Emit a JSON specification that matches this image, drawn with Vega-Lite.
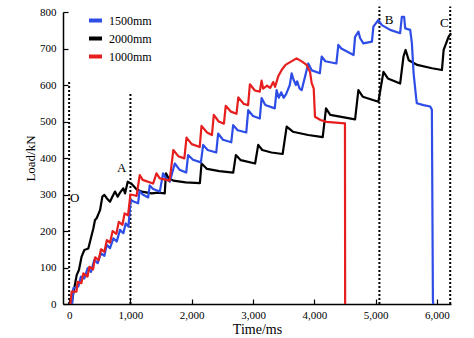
{
  "$schema": "https://vega.github.io/schema/vega-lite/v6.json",
  "width": 388,
  "height": 292,
  "autosize": "none",
  "padding": {"left": 63, "top": 12, "right": 23, "bottom": 34},
  "background": "white",
  "config": {
    "view": {"stroke": null},
    "font": "Liberation Serif",
    "axis": {
      "domainColor": "black", "domainWidth": 1.5,
      "tickColor": "black", "tickWidth": 1.2, "tickSize": -5,
      "labelColor": "black", "labelFont": "Liberation Serif", "labelFontSize": 11,
      "labelOverlap": false, "labelFlush": false,
      "titleColor": "black", "titleFont": "Liberation Serif", "titleFontWeight": "normal",
      "grid": false
    }
  },
  "datasets": {
    "curves": [
      {"s":"2000mm","t":0,"v":0},{"s":"2000mm","t":41,"v":2},{"s":"2000mm","t":80,"v":40},{"s":"2000mm","t":123,"v":79},{"s":"2000mm","t":160,"v":93},{"s":"2000mm","t":204,"v":130},{"s":"2000mm","t":248,"v":148},{"s":"2000mm","t":313,"v":152},{"s":"2000mm","t":368,"v":189},{"s":"2000mm","t":395,"v":207},{"s":"2000mm","t":422,"v":230},{"s":"2000mm","t":449,"v":235},{"s":"2000mm","t":504,"v":257},{"s":"2000mm","t":542,"v":294},{"s":"2000mm","t":575,"v":299},{"s":"2000mm","t":613,"v":290},{"s":"2000mm","t":667,"v":280},{"s":"2000mm","t":705,"v":294},{"s":"2000mm","t":749,"v":308},{"s":"2000mm","t":792,"v":294},{"s":"2000mm","t":830,"v":305},{"s":"2000mm","t":885,"v":317},{"s":"2000mm","t":912,"v":303},{"s":"2000mm","t":956,"v":335},{"s":"2000mm","t":1021,"v":329},{"s":"2000mm","t":1103,"v":314},{"s":"2000mm","t":1185,"v":308},{"s":"2000mm","t":1348,"v":303},{"s":"2000mm","t":1450,"v":305},{"s":"2000mm","t":1560,"v":303},{"s":"2000mm","t":1580,"v":358},{"s":"2000mm","t":1620,"v":345},{"s":"2000mm","t":1700,"v":338},{"s":"2000mm","t":1900,"v":333},{"s":"2000mm","t":2133,"v":331},{"s":"2000mm","t":2160,"v":385},{"s":"2000mm","t":2250,"v":370},{"s":"2000mm","t":2450,"v":364},{"s":"2000mm","t":2677,"v":360},{"s":"2000mm","t":2720,"v":408},{"s":"2000mm","t":2800,"v":394},{"s":"2000mm","t":3034,"v":385},{"s":"2000mm","t":3085,"v":436},{"s":"2000mm","t":3150,"v":422},{"s":"2000mm","t":3300,"v":415},{"s":"2000mm","t":3483,"v":411},{"s":"2000mm","t":3549,"v":486},{"s":"2000mm","t":3650,"v":472},{"s":"2000mm","t":3900,"v":463},{"s":"2000mm","t":4137,"v":457},{"s":"2000mm","t":4191,"v":536},{"s":"2000mm","t":4260,"v":518},{"s":"2000mm","t":4665,"v":506},{"s":"2000mm","t":4719,"v":586},{"s":"2000mm","t":4790,"v":568},{"s":"2000mm","t":5045,"v":554},{"s":"2000mm","t":5128,"v":636},{"s":"2000mm","t":5200,"v":618},{"s":"2000mm","t":5400,"v":604},{"s":"2000mm","t":5455,"v":678},{"s":"2000mm","t":5490,"v":696},{"s":"2000mm","t":5540,"v":668},{"s":"2000mm","t":5680,"v":655},{"s":"2000mm","t":5920,"v":646},{"s":"2000mm","t":6082,"v":641},{"s":"2000mm","t":6110,"v":696},{"s":"2000mm","t":6190,"v":732},{"s":"2000mm","t":6230,"v":742},
      {"s":"1500mm","t":50,"v":0},{"s":"1500mm","t":68,"v":43},{"s":"1500mm","t":150,"v":48},{"s":"1500mm","t":193,"v":75},{"s":"1500mm","t":248,"v":70},{"s":"1500mm","t":302,"v":98},{"s":"1500mm","t":357,"v":88},{"s":"1500mm","t":411,"v":121},{"s":"1500mm","t":466,"v":112},{"s":"1500mm","t":520,"v":139},{"s":"1500mm","t":575,"v":132},{"s":"1500mm","t":613,"v":162},{"s":"1500mm","t":667,"v":153},{"s":"1500mm","t":722,"v":180},{"s":"1500mm","t":776,"v":171},{"s":"1500mm","t":830,"v":203},{"s":"1500mm","t":885,"v":194},{"s":"1500mm","t":923,"v":221},{"s":"1500mm","t":967,"v":212},{"s":"1500mm","t":1005,"v":285},{"s":"1500mm","t":1060,"v":280},{"s":"1500mm","t":1125,"v":276},{"s":"1500mm","t":1150,"v":310},{"s":"1500mm","t":1200,"v":300},{"s":"1500mm","t":1290,"v":292},{"s":"1500mm","t":1315,"v":325},{"s":"1500mm","t":1370,"v":315},{"s":"1500mm","t":1479,"v":308},{"s":"1500mm","t":1533,"v":358},{"s":"1500mm","t":1580,"v":345},{"s":"1500mm","t":1642,"v":335},{"s":"1500mm","t":1724,"v":385},{"s":"1500mm","t":1800,"v":368},{"s":"1500mm","t":1910,"v":360},{"s":"1500mm","t":1941,"v":408},{"s":"1500mm","t":2020,"v":395},{"s":"1500mm","t":2150,"v":388},{"s":"1500mm","t":2186,"v":436},{"s":"1500mm","t":2260,"v":422},{"s":"1500mm","t":2400,"v":415},{"s":"1500mm","t":2431,"v":467},{"s":"1500mm","t":2510,"v":450},{"s":"1500mm","t":2645,"v":443},{"s":"1500mm","t":2676,"v":490},{"s":"1500mm","t":2750,"v":476},{"s":"1500mm","t":2890,"v":470},{"s":"1500mm","t":2922,"v":531},{"s":"1500mm","t":3000,"v":515},{"s":"1500mm","t":3110,"v":508},{"s":"1500mm","t":3140,"v":564},{"s":"1500mm","t":3200,"v":545},{"s":"1500mm","t":3355,"v":536},{"s":"1500mm","t":3385,"v":586},{"s":"1500mm","t":3420,"v":565},{"s":"1500mm","t":3460,"v":580},{"s":"1500mm","t":3500,"v":565},{"s":"1500mm","t":3540,"v":575},{"s":"1500mm","t":3600,"v":600},{"s":"1500mm","t":3630,"v":632},{"s":"1500mm","t":3660,"v":615},{"s":"1500mm","t":3700,"v":600},{"s":"1500mm","t":3720,"v":610},{"s":"1500mm","t":3760,"v":590},{"s":"1500mm","t":3794,"v":586},{"s":"1500mm","t":3902,"v":659},{"s":"1500mm","t":3960,"v":640},{"s":"1500mm","t":4090,"v":632},{"s":"1500mm","t":4120,"v":678},{"s":"1500mm","t":4180,"v":665},{"s":"1500mm","t":4360,"v":659},{"s":"1500mm","t":4392,"v":710},{"s":"1500mm","t":4440,"v":700},{"s":"1500mm","t":4640,"v":682},{"s":"1500mm","t":4665,"v":732},{"s":"1500mm","t":4720,"v":746},{"s":"1500mm","t":4748,"v":728},{"s":"1500mm","t":4800,"v":714},{"s":"1500mm","t":4940,"v":719},{"s":"1500mm","t":4964,"v":760},{"s":"1500mm","t":5046,"v":778},{"s":"1500mm","t":5101,"v":764},{"s":"1500mm","t":5237,"v":751},{"s":"1500mm","t":5400,"v":742},{"s":"1500mm","t":5428,"v":787},{"s":"1500mm","t":5465,"v":787},{"s":"1500mm","t":5483,"v":755},{"s":"1500mm","t":5564,"v":751},{"s":"1500mm","t":5592,"v":714},{"s":"1500mm","t":5620,"v":632},{"s":"1500mm","t":5662,"v":564},{"s":"1500mm","t":5673,"v":550},{"s":"1500mm","t":5782,"v":545},{"s":"1500mm","t":5891,"v":541},{"s":"1500mm","t":5918,"v":532},{"s":"1500mm","t":5935,"v":11},{"s":"1500mm","t":5940,"v":0},
      {"s":"1000mm","t":20,"v":0},{"s":"1000mm","t":41,"v":34},{"s":"1000mm","t":120,"v":34},{"s":"1000mm","t":139,"v":61},{"s":"1000mm","t":200,"v":57},{"s":"1000mm","t":232,"v":84},{"s":"1000mm","t":300,"v":75},{"s":"1000mm","t":330,"v":102},{"s":"1000mm","t":390,"v":95},{"s":"1000mm","t":425,"v":128},{"s":"1000mm","t":480,"v":120},{"s":"1000mm","t":520,"v":150},{"s":"1000mm","t":575,"v":143},{"s":"1000mm","t":615,"v":175},{"s":"1000mm","t":667,"v":168},{"s":"1000mm","t":710,"v":200},{"s":"1000mm","t":770,"v":192},{"s":"1000mm","t":810,"v":225},{"s":"1000mm","t":870,"v":217},{"s":"1000mm","t":905,"v":248},{"s":"1000mm","t":961,"v":243},{"s":"1000mm","t":1000,"v":300},{"s":"1000mm","t":1060,"v":298},{"s":"1000mm","t":1100,"v":296},{"s":"1000mm","t":1152,"v":353},{"s":"1000mm","t":1200,"v":340},{"s":"1000mm","t":1370,"v":330},{"s":"1000mm","t":1425,"v":358},{"s":"1000mm","t":1479,"v":344},{"s":"1000mm","t":1640,"v":338},{"s":"1000mm","t":1700,"v":422},{"s":"1000mm","t":1780,"v":405},{"s":"1000mm","t":1880,"v":399},{"s":"1000mm","t":1915,"v":456},{"s":"1000mm","t":2000,"v":438},{"s":"1000mm","t":2130,"v":430},{"s":"1000mm","t":2160,"v":488},{"s":"1000mm","t":2250,"v":470},{"s":"1000mm","t":2330,"v":463},{"s":"1000mm","t":2360,"v":518},{"s":"1000mm","t":2440,"v":500},{"s":"1000mm","t":2525,"v":494},{"s":"1000mm","t":2555,"v":543},{"s":"1000mm","t":2640,"v":527},{"s":"1000mm","t":2730,"v":521},{"s":"1000mm","t":2760,"v":566},{"s":"1000mm","t":2850,"v":548},{"s":"1000mm","t":2920,"v":545},{"s":"1000mm","t":2949,"v":602},{"s":"1000mm","t":3030,"v":585},{"s":"1000mm","t":3110,"v":582},{"s":"1000mm","t":3140,"v":612},{"s":"1000mm","t":3165,"v":590},{"s":"1000mm","t":3230,"v":598},{"s":"1000mm","t":3280,"v":592},{"s":"1000mm","t":3330,"v":608},{"s":"1000mm","t":3360,"v":595},{"s":"1000mm","t":3410,"v":623},{"s":"1000mm","t":3467,"v":641},{"s":"1000mm","t":3530,"v":655},{"s":"1000mm","t":3620,"v":664},{"s":"1000mm","t":3712,"v":673},{"s":"1000mm","t":3800,"v":664},{"s":"1000mm","t":3875,"v":655},{"s":"1000mm","t":3930,"v":636},{"s":"1000mm","t":3957,"v":605},{"s":"1000mm","t":3990,"v":591},{"s":"1000mm","t":4011,"v":513},{"s":"1000mm","t":4100,"v":504},{"s":"1000mm","t":4200,"v":499},{"s":"1000mm","t":4500,"v":495},{"s":"1000mm","t":4503,"v":0}
    ],
    "marks": [
      {"t":0,"lo":0,"hi":610},
      {"t":1000,"lo":0,"hi":580},
      {"t":5062,"lo":0,"hi":815},
      {"t":6217,"lo":0,"hi":815}
    ],
    "labels": [
      {"t":90,"v":290,"txt":"O"},
      {"t":858,"v":372,"txt":"A"},
      {"t":5220,"v":778,"txt":"B"},
      {"t":6120,"v":770,"txt":"C"}
    ]
  },
  "layer": [
    {
      "data": {"name": "marks"},
      "mark": {"type": "rule", "color": "black", "strokeWidth": 2, "strokeDash": [2, 2], "clip": false},
      "encoding": {
        "x": {"field": "t", "type": "quantitative"},
        "y": {"field": "lo", "type": "quantitative"},
        "y2": {"field": "hi"}
      }
    },
    {
      "data": {"name": "curves"},
      "mark": {"type": "line", "strokeWidth": 2.2, "strokeJoin": "round"},
      "encoding": {
        "x": {"field": "t", "type": "quantitative", "sort": null,
          "scale": {"domain": [-100, 6230], "nice": false, "zero": false},
          "axis": {"title": "Time/ms", "titleFontSize": 14, "titlePadding": 2, "values": [0,1000,2000,3000,4000,5000,6000], "format": ",d", "labelPadding": 10, "labelOverlap": false}},
        "y": {"field": "v", "type": "quantitative",
          "scale": {"domain": [0, 800], "nice": false},
          "axis": {"title": "Load/kN", "titleFontSize": 13, "titlePadding": 2, "values": [0,100,200,300,400,500,600,700,800], "tickCount": 9, "format": "d", "labelPadding": 12, "labelOverlap": false, "labelSeparation": 0}},
        "color": {"field": "s", "type": "nominal",
          "scale": {"domain": ["1500mm", "2000mm", "1000mm"], "range": ["#2d4de6", "#000000", "#e61e1e"]},
          "legend": {"title": null, "orient": "none", "legendX": 24, "legendY": 0, "symbolType": "stroke", "symbolSize": 169, "symbolStrokeWidth": 4, "labelFont": "Liberation Serif", "labelFontSize": 12, "labelColor": "black", "labelOffset": 5, "rowPadding": 1}},
        "order": {"field": "t", "type": "quantitative"}
      }
    },
    {
      "data": {"name": "labels"},
      "mark": {"type": "text", "font": "Liberation Serif", "fontSize": 13, "color": "black"},
      "encoding": {
        "x": {"field": "t", "type": "quantitative"},
        "y": {"field": "v", "type": "quantitative"},
        "text": {"field": "txt"}
      }
    }
  ]
}
